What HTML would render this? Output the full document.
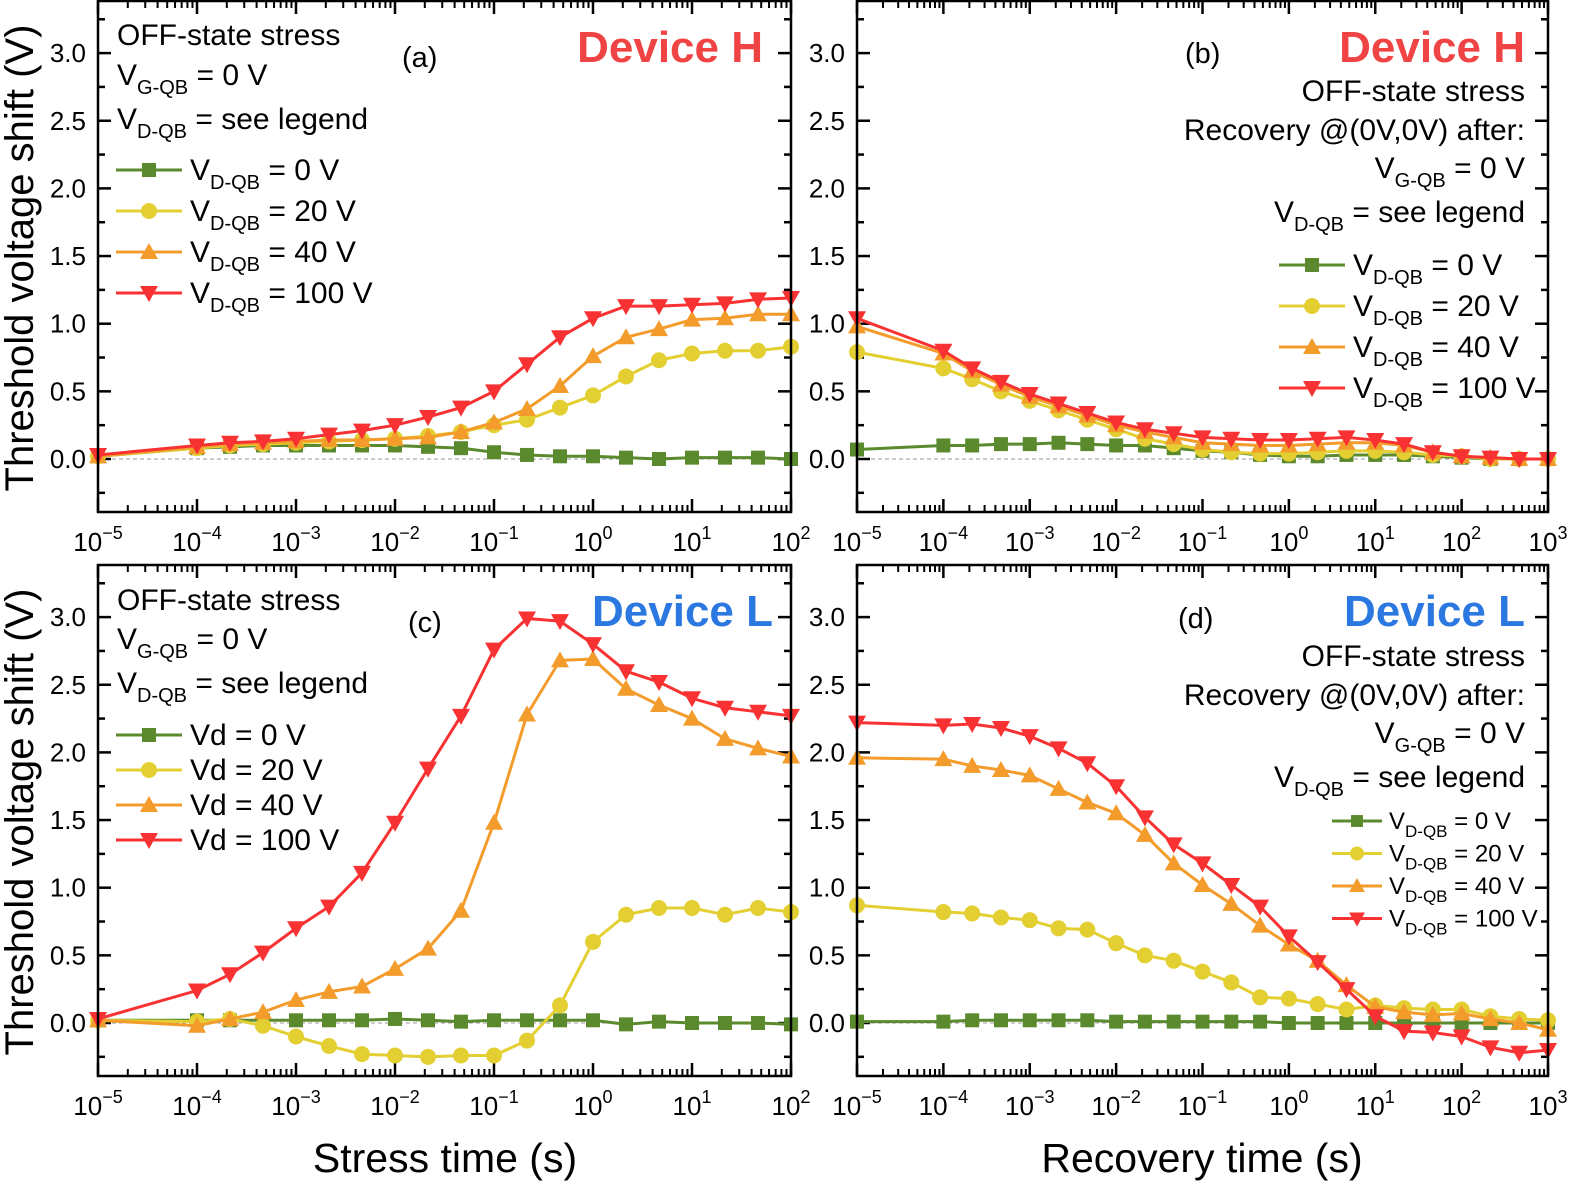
<!DOCTYPE html>
<html><head><meta charset="utf-8"><style>
html,body{margin:0;padding:0;background:#fff}
svg{display:block;font-family:"Liberation Sans",Arial,sans-serif}
</style></head><body>
<svg id="s" xmlns="http://www.w3.org/2000/svg" width="1570" height="1183" viewBox="0 0 1570 1183"></svg>
<script>
const S=document.getElementById('s');let h='';
const C={g:'#5b8a2e',y:'#e3cf32',o:'#f39c2c',r:'#f83232'};
const PY=135.3;
function panel(o){
 const {x0,x1,y0,y1,z,dmin,dmax}=o;
 const X=d=>x0+(d-dmin)/(dmax-dmin)*(x1-x0);
 const Y=v=>z-v*PY;
 h+=`<line x1="${x0}" x2="${x1}" y1="${Y(0)}" y2="${Y(0)}" stroke="#999" stroke-width="1" stroke-dasharray="4,3"/>`;
 for(let d=dmin;d<=dmax;d++){
  const x=X(d);
  h+=`<line x1="${x}" x2="${x}" y1="${y1}" y2="${y1-13}" stroke="#000" stroke-width="2.5"/><line x1="${x}" x2="${x}" y1="${y0}" y2="${y0+13}" stroke="#000" stroke-width="2.5"/>`;
  h+=`<text x="${x}" y="${y1+39}" font-size="26" text-anchor="middle">10<tspan dy="-12" font-size="18">${d<0?'−'+(-d):d}</tspan></text>`;
  if(d<dmax)for(let m=2;m<10;m++){const xm=X(d+Math.log10(m));h+=`<line x1="${xm}" x2="${xm}" y1="${y1}" y2="${y1-7}" stroke="#000" stroke-width="2"/><line x1="${xm}" x2="${xm}" y1="${y0}" y2="${y0+7}" stroke="#000" stroke-width="2"/>`;}
 }
 for(let v=-0.25;v<=3.3;v+=0.25){
  const y=Y(v);if(y<y0||y>y1)continue;const maj=Math.abs(v*2-Math.round(v*2))<0.01;const L=maj?13:7;
  h+=`<line x1="${x0}" x2="${x0+L}" y1="${y}" y2="${y}" stroke="#000" stroke-width="2.5"/><line x1="${x1}" x2="${x1-L}" y1="${y}" y2="${y}" stroke="#000" stroke-width="2.5"/>`;
  if(maj&&v>=0)h+=`<text x="${x0-12}" y="${y+9}" font-size="26" text-anchor="end">${v.toFixed(1)}</text>`;
 }
 const ds=[-5];for(let k=0;k<o.n;k++)ds.push(-4+k/3);
 ['g','y','o','r'].forEach(k=>{
  const vals=o.data[k];let pts=vals.map((v,i)=>[X(ds[i]),Y(v)]);
  h+=`<polyline fill="none" stroke="${C[k]}" stroke-width="3" points="${pts.map(p=>p.join(',')).join(' ')}"/>`;
  pts.forEach(p=>h+=mk(k,p[0],p[1],1));
 });
 h+=`<rect x="${x0}" y="${y0}" width="${x1-x0}" height="${y1-y0}" fill="none" stroke="#000" stroke-width="2.5"/>`;
}
function mk(k,x,y,s){const c=C[k];const r=7*s;
 if(k=='g')return `<rect x="${x-r}" y="${y-r}" width="${2*r}" height="${2*r}" fill="${c}"/>`;
 if(k=='y')return `<circle cx="${x}" cy="${y}" r="${r+1}" fill="${c}"/>`;
 if(k=='o')return `<polygon points="${x},${y-r-2} ${x-r-2},${y+r} ${x+r+2},${y+r}" fill="${c}"/>`;
 return `<polygon points="${x},${y+r+2} ${x-r-2},${y-r} ${x+r+2},${y-r}" fill="${c}"/>`;}
function T(x,y,t,fs,anc,col,w){h+=`<text x="${x}" y="${y}" font-size="${fs||30}" text-anchor="${anc||'start'}" fill="${col||'#000'}" font-weight="${w||'normal'}">${t}</text>`;}
const sub=(a,b)=>`${a}<tspan font-size="20" dy="9">${b}</tspan><tspan dy="-9">`;
function leg(x,y,dy,labels,fs){['g','y','o','r'].forEach((k,i)=>{const yy=y+i*dy;h+=`<line x1="${x}" x2="${x+66}" y1="${yy}" y2="${yy}" stroke="${C[k]}" stroke-width="3"/>`+mk(k,x+33,yy,1);T(x+74,yy+10,labels[i],fs);});}
const vd=v=>`V<tspan font-size="20" dy="9">D-QB</tspan><tspan dy="-9"> = ${v} V</tspan>`;
const vds=v=>`V<tspan font-size="17" dy="8">D-QB</tspan><tspan dy="-8"> = ${v} V</tspan>`;

panel({x0:98,x1:791,y0:1,y1:512,z:459,dmin:-5,dmax:2,n:19,data:{
g:[0.02,0.08,0.09,0.1,0.1,0.1,0.1,0.1,0.09,0.08,0.05,0.03,0.02,0.02,0.01,0,0.01,0.01,0.01,0],
y:[0.02,0.08,0.1,0.11,0.12,0.13,0.14,0.15,0.17,0.2,0.25,0.29,0.38,0.47,0.61,0.73,0.78,0.8,0.8,0.83],
o:[0.02,0.09,0.11,0.12,0.13,0.14,0.14,0.15,0.16,0.2,0.27,0.37,0.54,0.76,0.9,0.96,1.03,1.04,1.07,1.07],
r:[0.03,0.1,0.12,0.13,0.15,0.18,0.21,0.25,0.31,0.38,0.5,0.7,0.9,1.04,1.13,1.13,1.14,1.15,1.18,1.19]}});
panel({x0:857,x1:1548,y0:1,y1:512,z:459,dmin:-5,dmax:3,n:22,data:{
r:[1.04,0.8,0.67,0.57,0.48,0.41,0.34,0.27,0.22,0.19,0.16,0.15,0.14,0.14,0.15,0.16,0.14,0.11,0.05,0.02,0.01,0,0],
o:[0.98,0.78,0.65,0.55,0.46,0.39,0.32,0.25,0.2,0.16,0.12,0.11,0.1,0.1,0.11,0.12,0.12,0.1,0.05,0.02,0.01,0,0],
y:[0.79,0.67,0.59,0.5,0.43,0.36,0.29,0.22,0.15,0.11,0.07,0.05,0.04,0.04,0.05,0.06,0.06,0.05,0.03,0.02,0,0,0],
g:[0.07,0.1,0.1,0.11,0.11,0.12,0.11,0.1,0.1,0.08,0.06,0.05,0.03,0.02,0.02,0.03,0.03,0.03,0.02,0.01,0,0,0]}});
panel({x0:98,x1:791,y0:565,y1:1076,z:1023,dmin:-5,dmax:2,n:19,data:{
g:[0.02,0.02,0.02,0.02,0.02,0.02,0.02,0.03,0.02,0.01,0.02,0.02,0.02,0.02,-0.01,0.01,0,0,0,-0.01],
y:[0.02,0.01,0.03,-0.02,-0.1,-0.17,-0.23,-0.24,-0.25,-0.24,-0.24,-0.13,0.13,0.6,0.8,0.85,0.85,0.8,0.85,0.82],
o:[0.02,-0.02,0.03,0.08,0.17,0.23,0.27,0.4,0.55,0.83,1.48,2.28,2.68,2.69,2.47,2.35,2.25,2.1,2.03,1.97],
r:[0.03,0.24,0.36,0.52,0.7,0.86,1.11,1.48,1.88,2.27,2.76,2.99,2.97,2.8,2.6,2.52,2.4,2.33,2.3,2.27]}});
panel({x0:857,x1:1548,y0:565,y1:1076,z:1023,dmin:-5,dmax:3,n:22,data:{
r:[2.22,2.2,2.21,2.18,2.12,2.03,1.92,1.75,1.52,1.32,1.18,1.02,0.86,0.64,0.45,0.25,0.05,-0.06,-0.07,-0.1,-0.18,-0.22,-0.2],
o:[1.96,1.95,1.9,1.87,1.83,1.73,1.63,1.55,1.39,1.18,1.02,0.88,0.72,0.58,0.46,0.28,0.12,0.08,0.06,0.07,0.03,0,-0.05],
y:[0.87,0.82,0.81,0.78,0.76,0.7,0.69,0.59,0.5,0.46,0.38,0.3,0.19,0.18,0.14,0.1,0.13,0.11,0.1,0.1,0.05,0.03,0.02],
g:[0.01,0.01,0.02,0.02,0.02,0.02,0.02,0.01,0.01,0.01,0.01,0.01,0.01,0,0,0,0,0,0,0,0,0,0]}});

T(117,45,'OFF-state stress');T(117,85,sub('V','G-QB')+' = 0 V</tspan>');T(117,129,sub('V','D-QB')+' = see legend</tspan>');
T(402,67,'(a)',29);T(763,62,'Device H',44,'end','#f04444','bold');
leg(116,170,41,[vd(0),vd(20),vd(40),vd(100)],30);
T(1185,63,'(b)',29);T(1525,62,'Device H',44,'end','#f04444','bold');
T(1525,101,'OFF-state stress',30,'end');T(1525,140,'Recovery @(0V,0V) after:',30,'end');
T(1525,178,sub('V','G-QB')+' = 0 V</tspan>',30,'end');T(1525,222,sub('V','D-QB')+' = see legend</tspan>',30,'end');
leg(1279,265,41,[vd(0),vd(20),vd(40),vd(100)],30);
T(117,610,'OFF-state stress');T(117,649,sub('V','G-QB')+' = 0 V</tspan>');T(117,693,sub('V','D-QB')+' = see legend</tspan>');
T(408,632,'(c)',29);T(773,626,'Device L',44,'end','#2a78e0','bold');
leg(116,735,35,['Vd = 0 V','Vd = 20 V','Vd = 40 V','Vd = 100 V'],30);
T(1178,628,'(d)',29);T(1525,626,'Device L',44,'end','#2a78e0','bold');
T(1525,666,'OFF-state stress',30,'end');T(1525,705,'Recovery @(0V,0V) after:',30,'end');
T(1525,743,sub('V','G-QB')+' = 0 V</tspan>',30,'end');T(1525,787,sub('V','D-QB')+' = see legend</tspan>',30,'end');
['g','y','o','r'].forEach((k,i)=>{const yy=821+i*32.5;h+=`<line x1="${1332}" x2="${1382}" y1="${yy}" y2="${yy}" stroke="${C[k]}" stroke-width="3"/>`+mk(k,1357,yy,0.85);T(1389,yy+8,vds([0,20,40,100][i]),24);});
T(445,1172,'Stress time (s)',41,'middle');T(1202,1172,'Recovery time (s)',41,'middle');
h+=`<text transform="translate(33,258) rotate(-90)" font-size="40" text-anchor="middle">Threshold voltage shift (V)</text>`;
h+=`<text transform="translate(33,822) rotate(-90)" font-size="40" text-anchor="middle">Threshold voltage shift (V)</text>`;
S.innerHTML=h;
</script>
</body></html>
